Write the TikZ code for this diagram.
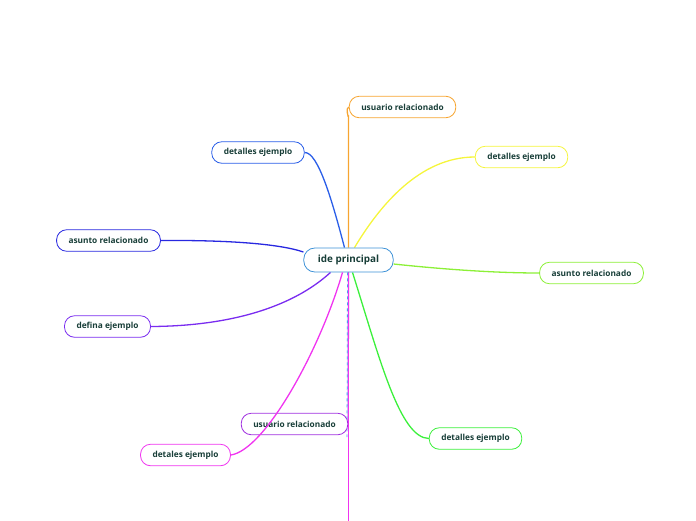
\documentclass[tikz,border=0pt]{standalone}
\usepackage{fontspec}
\setmainfont{Open Sans}
\usetikzlibrary{positioning,backgrounds}

\definecolor{inkText}{RGB}{24,62,56}
\definecolor{cCentre}{RGB}{60,145,215}
\definecolor{cOrange}{RGB}{247,165,49}
\definecolor{cBlue}{RGB}{42,94,232}
\definecolor{cYellow}{RGB}{245,245,60}
\definecolor{cNavy}{RGB}{40,40,224}
\definecolor{cLime}{RGB}{140,240,55}
\definecolor{cViolet}{RGB}{122,44,240}
\definecolor{cPurple}{RGB}{160,48,224}
\definecolor{cMagenta}{RGB}{240,52,240}
\definecolor{cGreen}{RGB}{60,240,60}
\definecolor{cDash}{RGB}{80,160,240}

\tikzset{
    topic/.style={draw=#1, rounded corners=10pt, fill=white, thick, minimum height=21.5pt,
        inner xsep=12pt, font=\bfseries\fontsize{8.3}{10}\selectfont, text=inkText},
    branch/.style={draw=#1, line width=1.3pt},
}

\begin{document}
\begin{tikzpicture}[x=1pt,y=-1pt]
    \useasboundingbox (0,0) rectangle (696,520);

    \coordinate (tail) at (348.5,522);
    \coordinate (mark) at (347,437);

    \node[topic=cCentre, font=\bfseries\fontsize{9.9}{12}\selectfont, inner xsep=14pt, minimum height=24pt, rounded corners=11pt] (ide) at (348.5,260) {ide principal};

    \node[topic=cOrange] (usrA) at (402.5,107) {usuario relacionado};
    \node[topic=cBlue] (detA) at (258,152.5) {detalles ejemplo};
    \node[topic=cYellow] (detB) at (521.5,157) {detalles ejemplo};
    \node[topic=cNavy] (asuA) at (108.5,240.5) {asunto relacionado};
    \node[topic=cLime] (asuB) at (591.5,273) {asunto relacionado};
    \node[topic=cViolet] (def) at (107.5,326.5) {defina ejemplo};
    \node[topic=cPurple] (usrB) at (294.5,424) {usuario relacionado};
    \node[topic=cMagenta] (detC) at (185.5,455) {detales ejemplo};
    \node[topic=cGreen] (detD) at (475.5,438.5) {detalles ejemplo};

    % branches go under the boxes
    \begin{scope}[on background layer]
    \draw[branch=cOrange] (ide.north) -- (348.5,116) to[out=-90,in=180] (usrA.west);
    \draw[branch=cBlue] (detA.east) .. controls (318,152) and (332,200) .. ([xshift=-4pt]ide.north);
    \draw[branch=cYellow] ([xshift=6pt]ide.north) .. controls (380,205) and (420,157) .. (detB.west);
    \draw[branch=cNavy] (asuA.east) .. controls (230,240) and (280,244) .. ([yshift=8pt]ide.west);
    \draw[branch=cLime] ([yshift=-4pt]ide.east) .. controls (450,270) and (500,273) .. (asuB.west);
    \draw[branch=cViolet] (def.east) .. controls (235,326) and (295,305) .. ([xshift=-18pt]ide.south);
    \draw[branch=cPurple] (ide.south) -- (usrB.east);
    \draw[dashed, thick, color=cDash] ([xshift=-1pt]ide.south) -- (mark);
    \draw[branch=cGreen] ([xshift=4pt]ide.south) .. controls (380,360) and (400,438) .. (detD.west);
    \draw[branch=cMagenta] (ide.south) -- (tail);
    \end{scope}
    % this one crosses over the purple box
    \draw[branch=cMagenta] (detC.east) .. controls (265,450) and (320,350) .. ([xshift=-6pt]ide.south);
\end{tikzpicture}
\end{document}
